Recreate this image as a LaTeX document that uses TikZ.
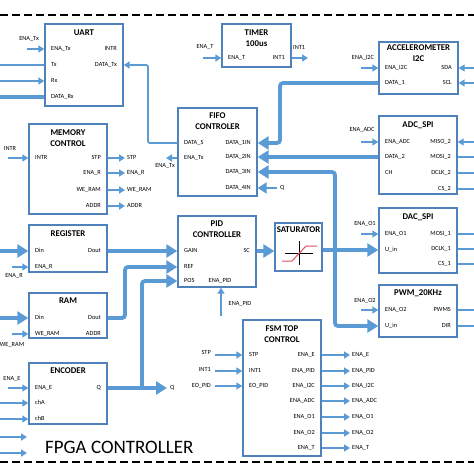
\documentclass[tikz,border=0pt]{standalone}
\usepackage{fontspec}
\setmainfont{Carlito}
\usetikzlibrary{arrows.meta}
\definecolor{boxc}{HTML}{4F81BD}
\definecolor{linec}{HTML}{5B9BD5}
\definecolor{satred}{HTML}{E0505A}
\begin{document}
\begin{tikzpicture}[x=1pt,y=-1pt,
  box/.style={draw=boxc, line width=1.4pt, fill=white, inner sep=0pt},
  ttl/.style={font=\fontsize{8.8}{10.5}\selectfont\bfseries, align=center, inner sep=0pt},
  port/.style={font=\fontsize{6.3}{7.5}\selectfont, inner sep=0pt, text height=4.6pt, text depth=1.2pt},
  lp/.style={port, anchor=west},
  rp/.style={port, anchor=east},
  conn/.style={draw=linec, line width=1.5pt},
  arr/.style={conn, -{Triangle[length=6pt,width=7pt]}},
  fat/.style={draw=linec, line width=3.8pt},
  fatarr/.style={fat, -{Triangle[length=11pt,width=13pt]}},
  midarr/.style={draw=linec, line width=2.4pt, -{Triangle[length=9pt,width=11pt]}},
  dashline/.style={draw=black, line width=2.4pt, dash pattern=on 8pt off 4pt}
]
\useasboundingbox (0,0) rectangle (474,474);
\fill[white] (0,0) rectangle (474,474);

% frame dashed lines
\coordinate (dl1) at (0,15); \coordinate (dr1) at (474,15);
\coordinate (dl2) at (0,462); \coordinate (dr2) at (474,462);
\draw[dashline] (dl1) -- (dr1);
\draw[dashline] (dl2) -- (dr2);

% ---------------- boxes ----------------
\node[box, minimum width=78pt, minimum height=82pt] (uart) at (84,65) {};
\node[box, minimum width=69pt, minimum height=43pt] (timer) at (256.5,45.5) {};
\node[box, minimum width=79pt, minimum height=52pt] (acc) at (418.5,68) {};
\node[box, minimum width=78pt, minimum height=78pt] (adc) at (418,155) {};
\node[box, minimum width=78pt, minimum height=65pt] (dac) at (418,240.5) {};
\node[box, minimum width=78pt, minimum height=52pt] (pwm) at (418,311) {};
\node[box, minimum width=78pt, minimum height=90pt] (mem) at (68,169) {};
\node[box, minimum width=78pt, minimum height=47pt] (reg) at (68,248.5) {};
\node[box, minimum width=78pt, minimum height=45pt] (ram) at (68,315.5) {};
\node[box, minimum width=78pt, minimum height=61pt] (enc) at (68,393.5) {};
\node[box, minimum width=79pt, minimum height=88pt] (fifo) at (217.5,152) {};
\node[box, minimum width=78pt, minimum height=71pt] (pid) at (217,251.5) {};
\node[box, minimum width=47pt, minimum height=48pt] (sat) at (298.5,247) {};
\node[box, minimum width=78pt, minimum height=136pt] (fsm) at (282,388) {};

% ---------------- titles ----------------
\node[ttl] (t-uart) at (84,33) {UART};
\node[ttl] (t-timer) at (256.5,38) {TIMER\\100us};
\node[ttl] (t-acc) at (418.5,53) {ACCELEROMETER\\I2C};
\node[ttl] (t-adc) at (418,125) {ADC\_SPI};
\node[ttl] (t-dac) at (418,217) {DAC\_SPI};
\node[ttl] (t-pwm) at (418,293) {PWM\_20KHz};
\node[ttl] (t-mem) at (68,138) {MEMORY\\CONTROL};
\node[ttl] (t-reg) at (68,234) {REGISTER};
\node[ttl] (t-ram) at (68,301) {RAM};
\node[ttl] (t-enc) at (68,371) {ENCODER};
\node[ttl] (t-fifo) at (217.5,121) {FIFO\\CONTROLER};
\node[ttl] (t-pid) at (217,229) {PID\\CONTROLLER};
\node[ttl] (t-sat) at (298.5,230) {SATURATOR};
\node[ttl] (t-fsm) at (282,334) {FSM TOP\\CONTROL};
\node[font=\fontsize{19}{22}\selectfont, anchor=base west, inner sep=0pt] (fpga) at (45,453.5) {FPGA CONTROLLER};

% ---------------- ports ----------------
% UART
\node[lp] (u-ena) at (51,49) {ENA\_Tx};
\node[lp] (u-tx) at (51,65) {Tx};
\node[lp] (u-rx) at (51,81) {Rx};
\node[lp] (u-drx) at (51,97) {DATA\_Rx};
\node[rp] (u-intr) at (117,49) {INTR};
\node[rp] (u-dtx) at (117,65) {DATA\_Tx};
% TIMER
\node[lp] (ti-ena) at (228,58) {ENA\_T};
\node[rp] (ti-int) at (285,58) {INT1};
% ACC
\node[lp] (a-ena) at (385,68) {ENA\_I2C};
\node[lp] (a-d1) at (385,83) {DATA\_1};
\node[rp] (a-sda) at (452,68) {SDA};
\node[rp] (a-scl) at (452,83) {SCL};
% ADC
\node[lp] (ad-ena) at (385,142) {ENA\_ADC};
\node[lp] (ad-d2) at (385,157) {DATA\_2};
\node[lp] (ad-ch) at (385,173) {CH};
\node[rp] (ad-miso) at (451,142) {MISO\_2};
\node[rp] (ad-mosi) at (451,157) {MOSI\_2};
\node[rp] (ad-dclk) at (451,173) {DCLK\_2};
\node[rp] (ad-cs) at (451,189) {CS\_2};
% DAC
\node[lp] (d-ena) at (385,234) {ENA\_O1};
\node[lp] (d-uin) at (385,250) {U\_in};
\node[rp] (d-mosi) at (451,234) {MOSI\_1};
\node[rp] (d-dclk) at (451,249) {DCLK\_1};
\node[rp] (d-cs) at (451,264) {CS\_1};
% PWM
\node[lp] (p-ena) at (385,310) {ENA\_O2};
\node[lp] (p-uin) at (385,326) {U\_in};
\node[rp] (p-pwms) at (451,310) {PWMS};
\node[rp] (p-dir) at (451,326) {DIR};
% MEMORY CONTROL
\node[lp] (m-intr) at (35,158) {INTR};
\node[rp] (m-stp) at (101,158) {STP};
\node[rp] (m-enar) at (101,173) {ENA\_R};
\node[rp] (m-we) at (101,190) {WE\_RAM};
\node[rp] (m-addr) at (101,206) {ADDR};
% REGISTER
\node[lp] (rg-din) at (35,251) {Din};
\node[lp] (rg-ena) at (35,267) {ENA\_R};
\node[rp] (rg-dout) at (101,251) {Dout};
% RAM
\node[lp] (ra-din) at (35,318) {Din};
\node[lp] (ra-we) at (35,334) {WE\_RAM};
\node[rp] (ra-dout) at (101,318) {Dout};
\node[rp] (ra-addr) at (101,334) {ADDR};
% ENCODER
\node[lp] (e-ena) at (35,388) {ENA\_E};
\node[lp] (e-cha) at (35,403) {chA};
\node[lp] (e-chb) at (35,419) {chB};
\node[rp] (e-q) at (101,388) {Q};
% FIFO
\node[lp] (f-ds) at (184,143) {DATA\_S};
\node[lp] (f-ena) at (184,158) {ENA\_Tx};
\node[rp] (f-d1) at (251,143) {DATA\_1IN};
\node[rp] (f-d2) at (251,157) {DATA\_2IN};
\node[rp] (f-d3) at (251,172) {DATA\_3IN};
\node[rp] (f-d4) at (251,188) {DATA\_4IN};
% PID
\node[lp] (pi-gain) at (184,251) {GAIN};
\node[lp] (pi-ref) at (184,267) {REF};
\node[lp] (pi-pos) at (184,281) {POS};
\node[rp] (pi-sc) at (250,251) {SC};
\node[port] (pi-ena) at (220,281) {ENA\_PID};
% FSM
\node[lp] (fs-stp) at (249,355) {STP};
\node[lp] (fs-int) at (249,371) {INT1};
\node[lp] (fs-eo) at (249,386) {EO\_PID};
\node[rp] (fs-e) at (315,355) {ENA\_E};
\node[rp] (fs-pid) at (315,371) {ENA\_PID};
\node[rp] (fs-i2c) at (315,386) {ENA\_I2C};
\node[rp] (fs-adc) at (315,401) {ENA\_ADC};
\node[rp] (fs-o1) at (315,417) {ENA\_O1};
\node[rp] (fs-o2) at (315,433) {ENA\_O2};
\node[rp] (fs-t) at (315,448) {ENA\_T};

% ---------------- external labels ----------------
\node[port] (x-uena) at (29,39) {ENA\_Tx};
\node[port] (x-tena) at (205,47) {ENA\_T};
\node[port, anchor=west] (x-tint) at (293,48) {INT1};
\node[port] (x-aena) at (363,58) {ENA\_I2C};
\node[port] (x-adena) at (362,130) {ENA\_ADC};
\node[port] (x-dena) at (365,224) {ENA\_O1};
\node[port] (x-pena) at (365,301) {ENA\_O2};
\node[port] (x-mintr) at (10,149) {INTR};
\node[lp] (x-mstp) at (127,158) {STP};
\node[lp] (x-menar) at (127,173) {ENA\_R};
\node[lp] (x-mwe) at (127,190) {WE\_RAM};
\node[lp] (x-maddr) at (127,206) {ADDR};
\node[port] (x-rgena) at (14,276) {ENA\_R};
\node[port] (x-rawe) at (12,345) {WE\_RAM};
\node[port] (x-eena) at (12,379) {ENA\_E};
\node[lp] (x-eq) at (170,388) {Q};
\node[lp] (x-fq) at (280,188) {Q};
\node[port] (x-fena) at (165,166) {ENA\_Tx};
\node[port] (x-pid) at (240,304) {ENA\_PID};
\node[rp] (x-fstp) at (211,353) {STP};
\node[rp] (x-fint) at (211,370) {INT1};
\node[rp] (x-feo) at (211,386) {EO\_PID};
\node[lp] (x-oe) at (352,355) {ENA\_E};
\node[lp] (x-opid) at (352,371) {ENA\_PID};
\node[lp] (x-oi2c) at (352,386) {ENA\_I2C};
\node[lp] (x-oadc) at (352,401) {ENA\_ADC};
\node[lp] (x-oo1) at (352,417) {ENA\_O1};
\node[lp] (x-oo2) at (352,433) {ENA\_O2};
\node[lp] (x-ot) at (352,448) {ENA\_T};

% ---------------- free ends / bends ----------------
\coordinate (k1) at (148,0);
\coordinate (k2) at (280,0);
\coordinate (k3) at (335,0);
\coordinate (k4) at (125,0);
\coordinate (k5) at (142,0);
\coordinate (le) at (0,0);      % left edge
\coordinate (re) at (474,0);    % right edge
\coordinate (lin) at (12,0);    % short left inputs
\coordinate (lin2) at (8,0);
\coordinate (ain) at (361,0);   % right column enable inputs
\coordinate (mout) at (125,0);  % memory outputs
\coordinate (fin) at (215,0);   % fsm inputs
\coordinate (fout) at (350,0);  % fsm outputs
\coordinate (e5a) at (0,437); \coordinate (e5b) at (27,437);
\coordinate (e6a) at (0,453); \coordinate (e6b) at (27,453);
\coordinate (uenaS) at (27,49);
\coordinate (tenaS) at (203,58);
\coordinate (tintE) at (308,58);
\coordinate (eqE) at (167,388);
\coordinate (fqS) at (277,188);
\coordinate (fenaE) at (166,158);
\coordinate (pidS) at (221,316);

% ---------------- connectors ----------------
% UART
\draw[arr] (uenaS) -- (uenaS -| uart.west);
\draw[conn] (le |- u-tx) -- (uart.west |- u-tx);
\draw[arr] (le |- u-rx) -- (uart.west |- u-rx);
\draw[fat] (le |- u-drx) -- (uart.west |- u-drx);
\draw[arr, line width=1.8pt, rounded corners=2pt] (fifo.west |- f-ds) -- (k1 |- f-ds) -- (k1 |- u-dtx) -- (uart.east |- u-dtx);
% TIMER
\draw[arr] (tenaS) -- (tenaS -| timer.west);
\draw[arr] (timer.east |- ti-int) -- (tintE);
% ACC
\draw[arr] (ain |- a-ena) -- (acc.west |- a-ena);
\draw[arr] (re |- a-sda) -- (acc.east |- a-sda);
\draw[arr] (re |- a-scl) -- (acc.east |- a-scl);
\draw[fatarr, rounded corners=3pt] (acc.west |- a-d1) -- (k2 |- a-d1) -- (k2 |- f-d1) -- (fifo.east |- f-d1);
% ADC
\draw[arr] (ain |- ad-ena) -- (adc.west |- ad-ena);
\draw[arr] (re |- ad-miso) -- (adc.east |- ad-miso);
\draw[conn] (adc.east |- ad-mosi) -- (re |- ad-mosi);
\draw[conn] (adc.east |- ad-dclk) -- (re |- ad-dclk);
\draw[conn] (adc.east |- ad-cs) -- (re |- ad-cs);
\draw[fatarr] (adc.west |- ad-d2) -- (fifo.east |- f-d2);
% DAC / PWM bus
\draw[fatarr, rounded corners=3pt] (k3 |- d-uin) -- (k3 |- f-d3) -- (fifo.east |- f-d3);
\draw[fatarr] (sat.east |- d-uin) -- (dac.west |- d-uin);
\draw[fatarr, rounded corners=3pt] (k3 |- d-uin) -- (k3 |- p-uin) -- (pwm.west |- p-uin);
\draw[arr] (ain |- d-ena) -- (dac.west |- d-ena);
\draw[conn] (dac.east |- d-mosi) -- (re |- d-mosi);
\draw[conn] (dac.east |- d-dclk) -- (re |- d-dclk);
\draw[conn] (dac.east |- d-cs) -- (re |- d-cs);
\draw[arr] (ain |- p-ena) -- (pwm.west |- p-ena);
\draw[conn] (pwm.east |- p-pwms) -- (re |- p-pwms);
\draw[conn] (pwm.east |- p-dir) -- (re |- p-dir);
% MEMORY CONTROL
\draw[arr] (lin2 |- m-intr) -- (mem.west |- m-intr);
\draw[arr] (mem.east |- m-stp) -- (mout |- m-stp);
\draw[arr] (mem.east |- m-enar) -- (mout |- m-enar);
\draw[arr] (mem.east |- m-we) -- (mout |- m-we);
\draw[arr] (mem.east |- m-addr) -- (mout |- m-addr);
% REGISTER
\draw[fatarr] (le |- rg-din) -- (reg.west |- rg-din);
\draw[arr] (lin |- rg-ena) -- (reg.west |- rg-ena);
\draw[fatarr] (reg.east |- rg-dout) -- (pid.west |- pi-gain);
% RAM
\draw[fatarr] (le |- ra-din) -- (ram.west |- ra-din);
\draw[arr] (lin |- ra-we) -- (ram.west |- ra-we);
\draw[fatarr, rounded corners=3pt] (ram.east |- ra-dout) -- (k4 |- ra-dout) -- (k4 |- pi-ref) -- (pid.west |- pi-ref);
% ENCODER
\draw[arr] (lin2 |- e-ena) -- (enc.west |- e-ena);
\draw[arr] (le |- e-cha) -- (enc.west |- e-cha);
\draw[arr] (le |- e-chb) -- (enc.west |- e-chb);
\draw[arr] (e5a) -- (e5b);
\draw[arr] (e6a) -- (e6b);
\draw[fatarr] (enc.east |- e-q) -- (eqE);
\draw[fatarr, rounded corners=3pt] (k5 |- e-q) -- (k5 |- pi-pos) -- (pid.west |- pi-pos);
% FIFO
\draw[midarr] (fqS) -- (fqS -| fifo.east);
\draw[arr] (fifo.west |- f-ena) -- (fenaE);
% PID
\draw[fatarr] (pid.east |- pi-sc) -- (sat.west |- pi-sc);
\draw[arr] (pidS) -- (pidS |- pid.south);
% FSM
\draw[arr] (fin |- fs-stp) -- (fsm.west |- fs-stp);
\draw[arr] (fin |- fs-int) -- (fsm.west |- fs-int);
\draw[arr] (fin |- fs-eo) -- (fsm.west |- fs-eo);
\foreach \p in {fs-e,fs-pid,fs-i2c,fs-adc,fs-o1,fs-o2,fs-t}{
  \draw[arr] (fsm.east |- \p) -- (fout |- \p);
}

% saturator symbol
\draw[black, line width=0.8pt] (285,253) -- (313,253);
\draw[black, line width=0.8pt] (299,241) -- (299,265);
\draw[satred, line width=1pt] (282,261) -- (292,261) -- (306,246) -- (317,246);
\end{tikzpicture}
\end{document}
